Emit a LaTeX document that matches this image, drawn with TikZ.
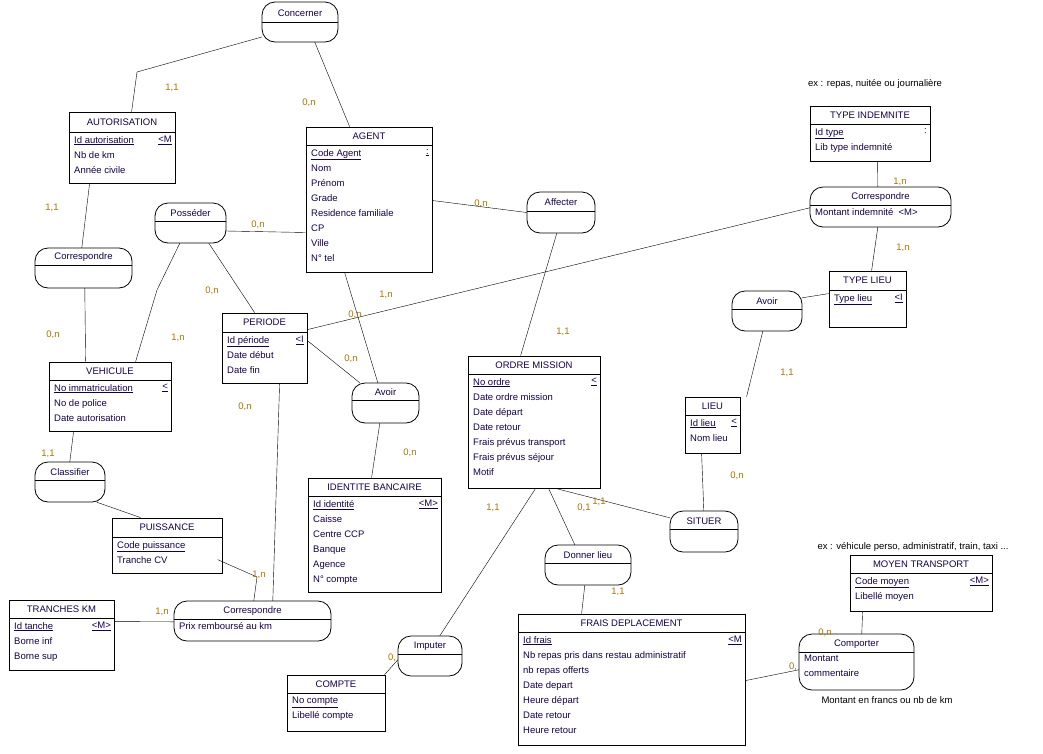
\documentclass[tikz,border=0pt]{standalone}
\usepackage{fontspec}
\setmainfont{Liberation Sans}
\usetikzlibrary{fit}
\definecolor{card}{RGB}{170,115,0}
\definecolor{txt}{RGB}{20,0,70}
\tikzset{
  box/.style={draw, line width=0.8pt},
  txtf/.style={font=\fontsize{9.5}{15}\selectfont, text=txt, inner sep=0pt},
  card/.style={font=\fontsize{9.5}{11}\selectfont, text=card, inner sep=0pt},
  note/.style={font=\fontsize{9.5}{11}\selectfont, inner sep=0pt}
}
% entity: name, x1, y1, x2, y2, line, title, body, key mark
\newcommand\entite[9]{%
  \node[box, fit={(#2,#3) (#4,#5)}, inner sep=0pt] (#1) {};
  \draw[line width=0.8pt] (#2,#6) -- (#4,#6);
  \node[txtf, anchor=center] at ({(#2+#4)/2},{(#3+#6)/2}) {#7};
  \node[txtf, anchor=north west, align=left] at (#2+5,#6+4) {#8};
  \node[txtf, anchor=north east] at (#4-3,#6+4) {#9};
}
% association: name, x1, y1, x2, y2, line, title, body
\newcommand\assoc[8]{%
  \draw[box, rounded corners=13pt] (#2,#3) rectangle (#4,#5);
  \node[fit={(#2,#3) (#4,#5)}, inner sep=0pt] (#1) {};
  \draw[line width=0.8pt] (#2,#6) -- (#4,#6);
  \node[txtf, anchor=center] at ({(#2+#4)/2},{(#3+#6)/2+1}) {#7};
  \node[txtf, anchor=north west, align=left] at (#2+5,#6+3) {#8};
}
\begin{document}
\begin{tikzpicture}[x=1pt, y=-1pt]
  \useasboundingbox (0,0) rectangle (1043,753);

  % the entities
  \entite{autorisation}{69}{112}{175}{183}{132}{AUTORISATION}{\underline{Id autorisation}\\Nb de km\\Année civile}{\underline{<M}}
  \entite{agent}{306}{127}{432}{272}{145}{AGENT}{\underline{Code Agent}\\Nom\\Prénom\\Grade\\Residence familiale\\CP\\Ville\\N° tel}{\underline{:}}
  \entite{typeindem}{810}{106}{930}{161}{124}{TYPE INDEMNITE}{\underline{Id type}\\Lib type indemnité}{:}
  \entite{typelieu}{829}{271}{906}{327}{290}{TYPE LIEU}{\underline{Type lieu}}{\underline{<I}}
  \entite{periode}{222}{313}{307}{383}{332}{PERIODE}{\underline{Id période}\\Date début\\Date fin}{\underline{<I}}
  \entite{vehicule}{49}{362}{171}{431}{380}{VEHICULE}{\underline{No immatriculation}\\No de police\\Date autorisation}{\underline{<}}
  \entite{ordre}{468}{356}{600}{488}{374}{ORDRE MISSION}{\underline{No ordre}\\Date ordre mission\\Date départ\\Date retour\\Frais prévus transport\\Frais prévus séjour\\Motif}{\underline{<}}
  \entite{lieu}{685}{397}{740}{453}{415}{LIEU}{\underline{Id lieu}\\Nom lieu}{\underline{<}}
  \entite{identite}{308}{478}{441}{592}{496}{IDENTITE BANCAIRE}{\underline{Id identité}\\Caisse\\Centre CCP\\Banque\\Agence\\N° compte}{\underline{<M>}\hspace{20pt}}
  \entite{puissance}{112}{518}{222}{573}{537}{PUISSANCE}{\underline{Code puissance}\\Tranche CV}{}
  \entite{tranches}{9}{600}{114}{670}{618}{TRANCHES KM}{\underline{Id tanche}\\Borne inf\\Borne sup}{\underline{<M>}\hspace{6pt}}
  \entite{compte}{287}{675}{385}{731}{693}{COMPTE}{\underline{No compte}\\Libellé compte}{}
  \entite{frais}{518}{614}{745}{745}{632}{FRAIS DEPLACEMENT}{\underline{Id frais}\\Nb repas pris dans restau administratif\\nb repas offerts\\Date depart\\Heure départ\\Date retour\\Heure retour}{\underline{<M}}
  \entite{moyen}{850}{555}{992}{611}{573}{MOYEN TRANSPORT}{\underline{Code moyen}\\Libellé moyen}{\underline{<M>}\hspace{18pt}}

  % the associations
  \assoc{concerner}{262}{2}{338}{42}{22}{Concerner}{}
  \assoc{posseder}{155}{203}{226}{243}{221}{Posséder}{}
  \assoc{corresp1}{35}{248}{132}{288}{265}{Correspondre}{}
  \assoc{affecter}{527}{192}{595}{233}{211}{Affecter}{}
  \assoc{corresp2}{810}{187}{951}{227}{205}{Correspondre}{Montant indemnité\ \ <M>}
  \assoc{avoir1}{732}{291}{802}{331}{309}{Avoir}{}
  \assoc{avoir2}{352}{383}{419}{423}{400}{Avoir}{}
  \assoc{classifier}{35}{462}{105}{502}{480}{Classifier}{}
  \assoc{corresp3}{174}{601}{331}{641}{619}{Correspondre}{Prix remboursé au km}
  \assoc{situer}{670}{511}{738}{552}{529}{SITUER}{}
  \assoc{donner}{545}{545}{631}{585}{563}{Donner lieu}{}
  \assoc{imputer}{398}{636}{462}{676}{654}{Imputer}{}
  \assoc{comporter}{799}{634}{914}{690}{652}{Comporter}{Montant\\commentaire}

  % the links
  \draw (concerner.west) ++(0,15) coordinate (c1) (c1) -- (137,72) -- ([xshift=63pt]autorisation.north west);
  \draw ([xshift=53pt]concerner.south west) -- ([xshift=44pt]agent.north west);
  \draw ([xshift=21pt]autorisation.south west) -- ([xshift=47pt]corresp1.north west);
  \draw ([xshift=50pt]corresp1.south west) -- ([xshift=37pt]vehicule.north west);
  \draw ([yshift=-8pt]posseder.east) -- ([yshift=-33pt]agent.west);
  \draw ([xshift=54pt]posseder.south west) -- ([xshift=33pt]periode.north west);
  \draw ([xshift=25pt]posseder.south west) -- (157,290) -- ([xshift=87pt]vehicule.north west);
  \draw ([yshift=-1pt]agent.east) -- (affecter.west);
  \draw ([xshift=30pt]affecter.south west) -- ([xshift=53pt]ordre.north west);
  \draw ([xshift=39pt]agent.south west) -- ([xshift=26pt]avoir2.north west);
  \draw ([yshift=-28pt]periode.north east) -- ([xshift=8pt]avoir2.north west);
  \draw ([yshift=-21pt]corresp2.north west) -- ([yshift=-17pt]periode.north east);
  \draw ([xshift=28pt]avoir2.south west) -- ([xshift=64pt]identite.north west);
  \draw ([xshift=68pt]typeindem.south west) -- ([xshift=68pt]corresp2.north west);
  \draw ([xshift=68pt]corresp2.south west) -- ([xshift=43pt]typelieu.north west);
  \draw ([yshift=-23pt]typelieu.north west) -- ([yshift=-7pt]avoir1.north east);
  \draw ([xshift=31pt]avoir1.south west) -- ([xshift=62pt]lieu.north west);
  \draw ([xshift=17pt]lieu.south west) -- ([xshift=34pt]situer.north west);
  \draw ([xshift=88pt]ordre.south west) -- ([yshift=-7pt]situer.north west);
  \draw ([xshift=81pt]ordre.south west) -- ([xshift=30pt]donner.north west);
  \draw ([xshift=68pt]ordre.south west) -- ([xshift=42pt]imputer.north west);
  \draw ([xshift=40pt]donner.south west) -- ([xshift=64pt]frais.north west);
  \draw ([yshift=-67pt]frais.north east) -- ([yshift=-36pt]comporter.north west);
  \draw ([xshift=13pt]moyen.south west) -- ([xshift=63pt]comporter.north west);
  \draw ([xshift=25pt]vehicule.south west) -- ([xshift=35pt]classifier.north west);
  \draw ([xshift=62pt]classifier.south west) -- ([xshift=29pt]puissance.north west);
  \draw ([xshift=106pt,yshift=-42pt]puissance.north west) -- (257,577) -- ([xshift=80pt]corresp3.north west);
  \draw ([xshift=58pt]periode.south west) -- ([xshift=99pt]corresp3.north west);
  \draw ([yshift=-22pt]tranches.north east) -- ([yshift=-21pt]corresp3.north west);
  \draw ([yshift=-24pt]imputer.north west) -- ([xshift=98pt]compte.north west);

  % the cardinalities
  \node[card] (k1) at (172,88) {1,1};
  \node[card] (k2) at (309,103) {0,n};
  \node[card] (k3) at (52,208) {1,1};
  \node[card] (k4) at (258,225) {0,n};
  \node[card] (k5) at (481,204) {0,n};
  \node[card] (k6) at (53,335) {0,n};
  \node[card] (k7) at (212,291) {0,n};
  \node[card] (k8) at (178,338) {1,n};
  \node[card] (k9) at (386,295) {1,n};
  \node[card] (k10) at (355,315) {0,n};
  \node[card] (k11) at (351,359) {0,n};
  \node[card] (k12) at (563,332) {1,1};
  \node[card] (k13) at (900,182) {1,n};
  \node[card] (k14) at (903,248) {1,n};
  \node[card] (k15) at (787,373) {1,1};
  \node[card] (k16) at (410,453) {0,n};
  \node[card] (k17) at (245,407) {0,n};
  \node[card] (k18) at (48,454) {1,1};
  \node[card] (k19) at (737,476) {0,n};
  \node[card] (k20) at (493,508) {1,1};
  \node[card] (k21) at (584,508) {0,1};
  \node[card] (k22) at (599,502) {1,1};
  \node[card] (k23) at (618,592) {1,1};
  \node[card] (k24) at (259,575) {1,n};
  \node[card] (k25) at (162,612) {1,n};
  \node[card] (k26) at (392,658) {0,};
  \node[card] (k27) at (825,633) {0,n};
  \node[card] (k28) at (793,667) {0,};

  % the notes
  \node[note] (n1) at (875,84) {ex : repas, nuitée ou journalière};
  \node[note] (n2) at (913,547) {ex : véhicule perso, administratif, train, taxi ...};
  \node[note] (n3) at (887,700) {Montant en francs ou nb de km};
\end{tikzpicture}
\end{document}
